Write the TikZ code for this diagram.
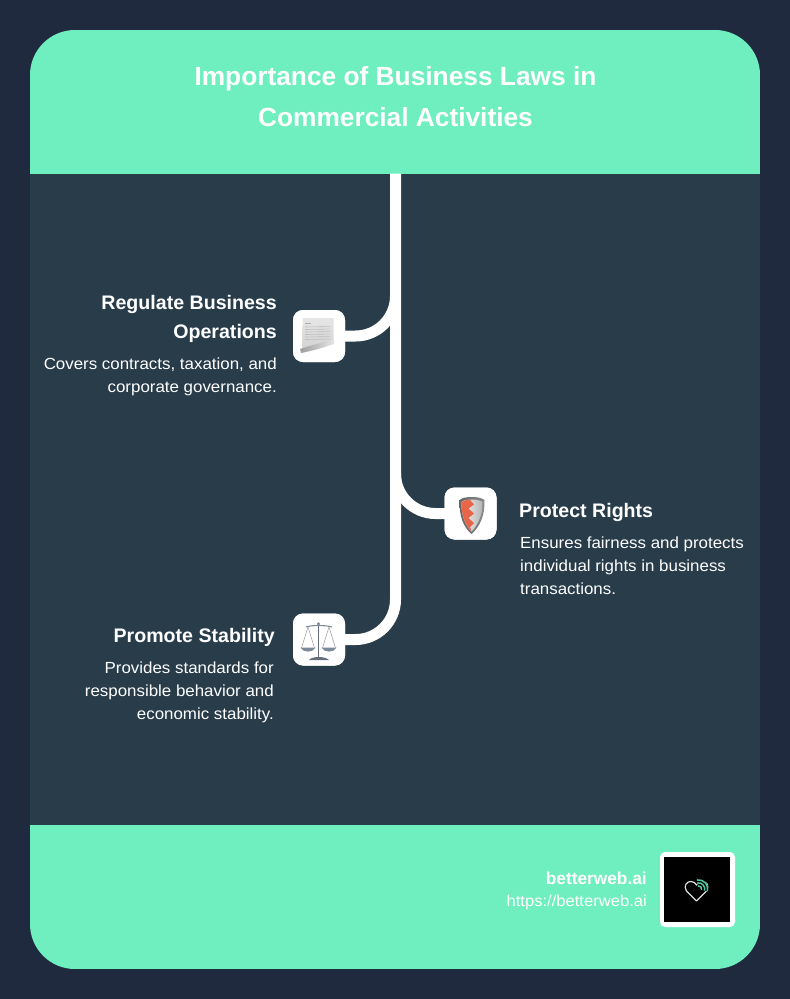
\documentclass[tikz,border=0pt]{standalone}
\usepackage{fontspec}
\setmainfont{Liberation Sans}
\newfontfamily\bodyfont[FakeStretch=1.05]{Liberation Sans}
\usetikzlibrary{shadings}
\definecolor{pagebg}{HTML}{1F2A3F}
\definecolor{mint}{HTML}{6FEFBF}
\definecolor{panel}{HTML}{283C4A}
\definecolor{scalec}{HTML}{7D8A9A}
\definecolor{shieldred}{HTML}{E8654A}
\definecolor{heartgreen}{HTML}{4FC9A0}
\tikzset{
  conn/.style={draw=white,line width=11pt,rounded corners=40pt},
  iconbox/.style={fill=white,draw=none,rounded corners=10pt,minimum width=52pt,minimum height=52pt,inner sep=0pt,outer sep=0pt},
  titletext/.style={text=white,font=\fontsize{26.3}{41}\selectfont\bfseries,align=center,inner sep=0pt},
  headtext/.style={text=white,font=\fontsize{19.6}{29}\selectfont\bfseries,inner sep=0pt},
  bodytext/.style={text=white,font=\bodyfont\fontsize{16.1}{23}\selectfont,inner sep=0pt},
  foothead/.style={text=white,font=\fontsize{17.3}{20}\selectfont\bfseries,inner sep=0pt},
  footbody/.style={text=white,font=\bodyfont\fontsize{15.8}{20}\selectfont,inner sep=0pt},
}
\begin{document}
\begin{tikzpicture}[x=1pt,y=-1pt]
\useasboundingbox (0,0) rectangle (790,999);
\fill[pagebg] (0,0) rectangle (790,999);
% card
\begin{scope}
\clip[rounded corners=45pt] (30,30) rectangle (760,969);
\fill[panel] (30,30) rectangle (760,969);
\fill[mint] (30,30) rectangle (760,173.5);
\fill[mint] (30,825) rectangle (760,969);
\end{scope}
% title
\node[titletext] (title) at (395.5,97) {Importance of Business Laws in\\Commercial Activities};
% icon boxes
\coordinate (trunktop) at (395.5,173.5);
\coordinate (joint1) at (395.5,296);
\coordinate (joint2) at (395.5,474);
\node[iconbox] (box1) at (319,336) {};
\node[iconbox] (box2) at (470.5,513.5) {};
\node[iconbox] (box3) at (319,639.5) {};
% connectors
\draw[conn] (trunktop) |- (box3.center);
\draw[conn] (joint1) |- (box1.center);
\draw[conn] (joint2) |- (box2.center);
\node[iconbox] at (box1) {};
\node[iconbox] at (box2) {};
\node[iconbox] at (box3) {};
% paper icon
\shade[top color=black!10,bottom color=black!17] (303,318) -- (333.5,318) -- (333.5,343) -- (302,348) -- cycle;
\foreach \y in {327,329.5,332,334.5,337,339.5}
  \draw[black!26,line width=.6pt] (305,\y) -- (330,\y-.4);
\draw[black!32,line width=.6pt] (305,323) -- (311,323);
\shade[left color=black!38,right color=black!10] (300,349) .. controls (315,344) and (325,342) .. (334,339.5) -- (334,344) .. controls (322,348) and (312,351) .. (301,353) -- cycle;
% shield icon
\shade[left color=black!60,right color=black!45] (471.5,497) .. controls (478,497) and (482,498) .. (484.5,500) .. controls (485,515) and (480,527) .. (471.5,534) .. controls (463,527) and (459,515) .. (459.5,500) .. controls (462,498) and (466,497) .. (471.5,497) -- cycle;
\shade[left color=black!4,right color=black!30] (471.5,499.5) .. controls (477,499.5) and (480.5,500.5) .. (482.5,502) .. controls (483,514) and (478,525) .. (471.5,531.5) .. controls (465,525) and (461,514) .. (461.5,502) .. controls (463.5,500.5) and (467,499.5) .. (471.5,499.5) -- cycle;
\fill[shieldred] (470,499.7) .. controls (467,499.8) and (463.5,500.5) .. (461.5,502) .. controls (461,514) and (465,525) .. (471.5,531.5) -- (470,527) -- (474,523) -- (468.5,518) -- (474,513.5) -- (468.5,508.5) -- (474,504.5) -- cycle;
% scales icon
\draw[scalec!80!black,line width=1.8pt] (318.5,624) -- (318.5,657);
\draw[scalec,line width=1.1pt] (306,627) .. controls (312,625) and (325,625) .. (332,627);
\fill[scalec] (318.5,623.8) circle (1.8pt);
\foreach \c in {308,329}{
  \draw[black!40,line width=.5pt] (\c,627) -- (\c-6.5,648) (\c,627) -- (\c+6.5,648);
  \fill[scalec] (\c-7.5,647.5) .. controls (\c-5,653) and (\c+5,653) .. (\c+7.5,647.5) -- cycle;
}
\fill[scalec!80!black] (309,660) .. controls (312,656) and (325,656) .. (329,660) -- cycle;
% text
\node[headtext,align=right,anchor=north east] (h1) at (277,295) {Regulate Business\\Operations};
\node[bodytext,align=right,anchor=north east] (d1) at (277,357.5) {Covers contracts, taxation, and\\corporate governance.};
\node[headtext,align=left,anchor=west] (h2) at (519,512) {Protect Rights};
\node[bodytext,align=left,anchor=north west] (d2) at (520,536.5) {Ensures fairness and protects\\individual rights in business\\transactions.};
\node[headtext,align=right,anchor=east] (h3) at (275,637) {Promote Stability};
\node[bodytext,align=right,anchor=north east] (d3) at (274,661.5) {Provides standards for\\responsible behavior and\\economic stability.};
% footer
\node[foothead,anchor=east] (f1) at (647,878.5) {betterweb.ai};
\node[footbody,anchor=east] (f2) at (647,902.5) {https://betterweb.ai};
\node[fill=white,rounded corners=5pt,minimum width=75pt,minimum height=75pt,inner sep=0pt] (logo) at (697.5,889.5) {};
\fill[black] (664,857) rectangle (729.5,922);
\draw[white!88!black,line width=1.2pt,line join=round] (696.5,901) -- (686.5,891) .. controls (683,886) and (687,881) .. (691,881.5) .. controls (693.5,881.5) and (695.5,883) .. (696.5,885) .. controls (698,883) and (700,881.5) .. (702.5,881.5) .. controls (707,881.5) and (709.5,886) .. (706.5,891) -- cycle;
\fill[black,shift={(698.5,889)}] (0,0) -- (100:10pt) arc (100:-15:10pt) -- cycle;
\foreach \r in {3.2,6.2,9.2}
  \draw[heartgreen,line width=1.5pt,shift={(698.5,889)}] (100:\r pt) arc (100:-15:\r pt);
\end{tikzpicture}
\end{document}
